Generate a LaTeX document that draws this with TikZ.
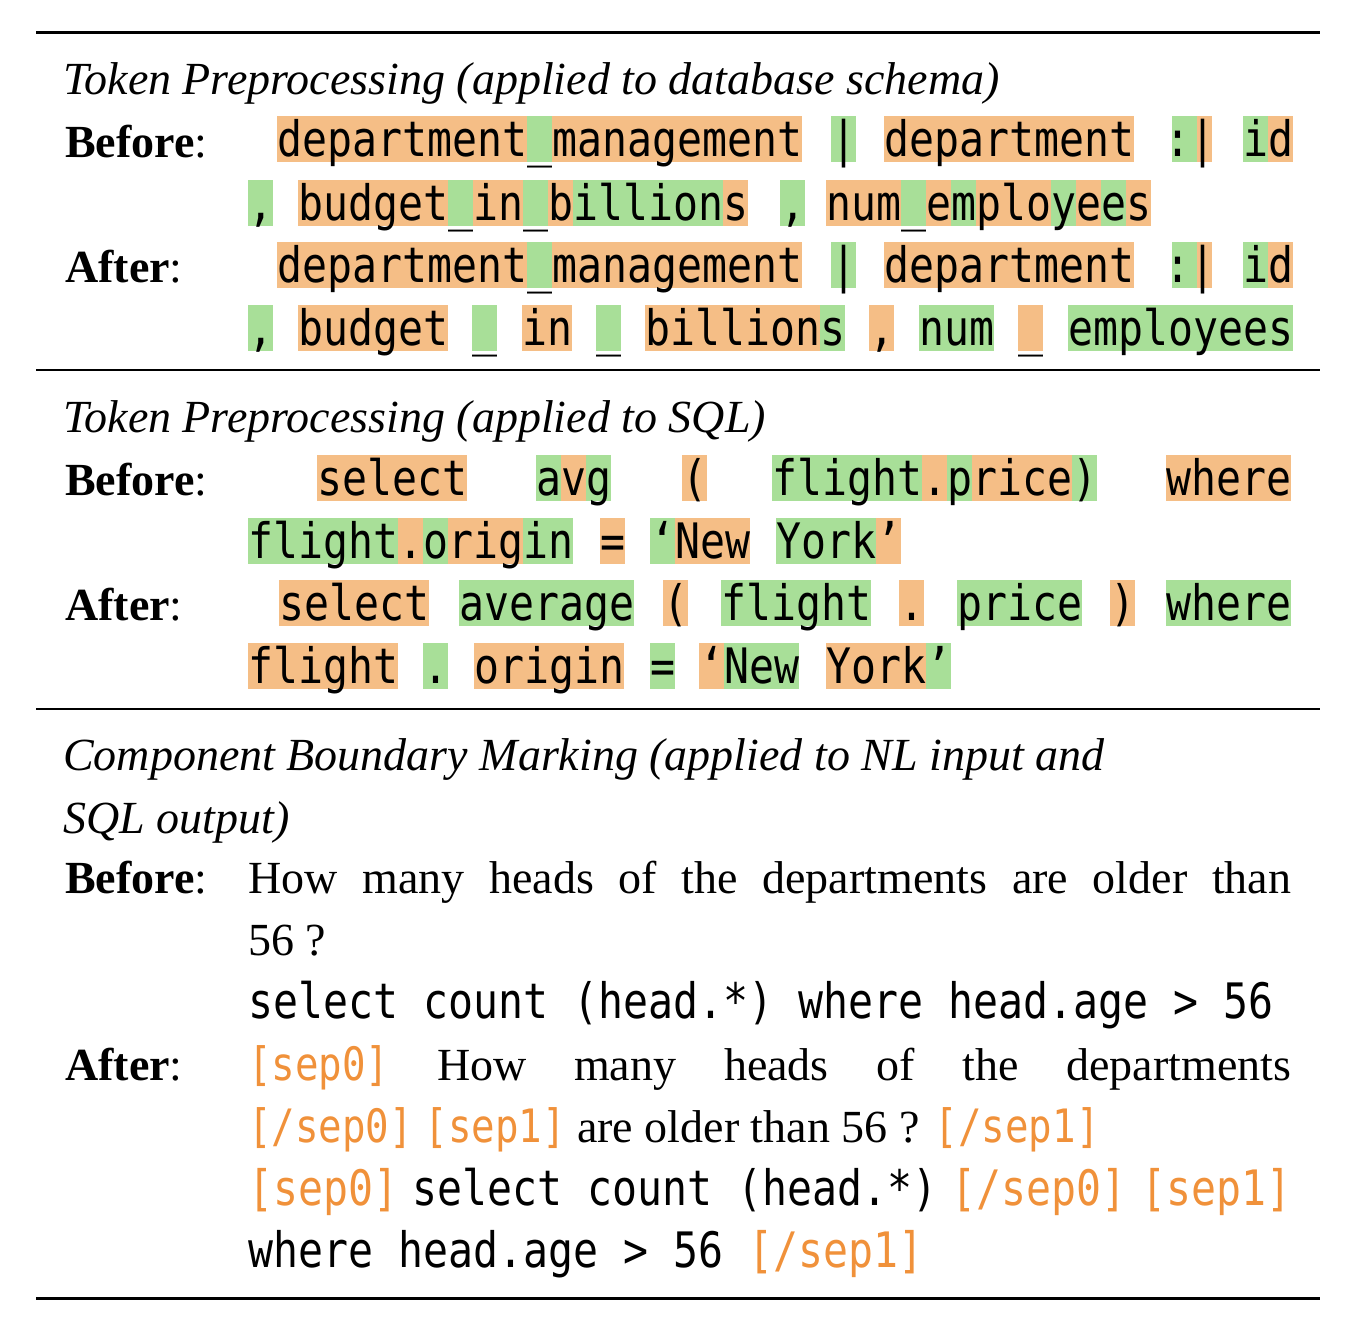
\documentclass[tikz,border=0pt]{standalone}
\usepackage{fontspec}
\setmainfont{Liberation Serif}
\newfontfamily\monof[FakeStretch=0.85]{DejaVu Sans Mono}
\definecolor{orb}{HTML}{F5BE86}
\definecolor{grb}{HTML}{A8DF98}
\definecolor{ort}{HTML}{F0913A}
\newcommand\sg[4]{\fill[#4] (#1,#2) rectangle ++(#3*25,46);}
\begin{document}
\begin{tikzpicture}[x=1pt,y=-1pt,
  mono/.style={anchor=base west,inner sep=0pt,font=\monof\fontsize{48.85}{50}\selectfont},
  ser/.style={anchor=base west,inner sep=0pt,font=\fontsize{46}{50}\selectfont},
  sep/.style={text=ort}]
\useasboundingbox (0,0) rectangle (1370,1320);
\draw[line width=3pt] (36,32) -- (1320,32);
\draw[line width=1.5pt] (36,370) -- (1320,370);
\draw[line width=1.5pt] (36,709) -- (1320,709);
\draw[line width=3pt] (36,1298) -- (1320,1298);
% ---------- section 1
\node[ser] (t1) at (63,94) {\itshape Token Preprocessing (applied to database schema)};
\node[ser] (b1) at (65,157) {\textbf{Before}:};
\node[ser] (a1) at (65,282) {\textbf{After}:};
% line 1 & 3
\foreach \t/\b in {116/156,242/282}{
 \sg{277}{\t}{10}{orb}\sg{527}{\t}{1}{grb}\sg{552}{\t}{10}{orb}
 \sg{831}{\t}{1}{grb}
 \sg{884}{\t}{10}{orb}
 \sg{1172}{\t}{1}{grb}\sg{1197}{\t}{0.6}{orb}
 \sg{1243}{\t}{1}{grb}\sg{1268}{\t}{1}{orb}
 \node[mono] at (277,\b) {department\_management};
 \node[mono] at (831,\b) {|};
 \node[mono] at (884,\b) {department};
 \node[mono] at (1165,\b) {:|};
 \node[mono] at (1243,\b) {id};
}
% line 2
\sg{248}{180}{1}{grb}
\sg{298}{180}{6}{orb}\sg{448}{180}{1}{grb}\sg{473}{180}{2}{orb}\sg{523}{180}{1}{grb}\sg{548}{180}{1}{orb}\sg{573}{180}{6}{grb}\sg{723}{180}{1}{orb}
\sg{780}{180}{1}{grb}
\sg{826}{180}{3}{orb}\sg{901}{180}{1}{grb}\sg{926}{180}{1}{orb}\sg{951}{180}{1}{grb}\sg{976}{180}{3}{orb}\sg{1051}{180}{1}{grb}\sg{1076}{180}{1}{orb}\sg{1101}{180}{1}{grb}\sg{1126}{180}{1}{orb}
\node[mono] at (248,220) {,};
\node[mono] at (298,220) {budget\_in\_billions};
\node[mono] at (780,220) {,};
\node[mono] at (826,220) {num\_employees};
% line 4
\sg{248}{305}{1}{grb}\sg{298}{305}{6}{orb}\sg{472}{305}{1}{grb}\sg{522}{305}{2}{orb}\sg{596}{305}{1}{grb}
\sg{645}{305}{7}{orb}\sg{820}{305}{1}{grb}\sg{869}{305}{1}{orb}\sg{919}{305}{3}{grb}\sg{1018}{305}{1}{orb}\sg{1068}{305}{9}{grb}
\node[mono] at (248,345) {,};
\node[mono] at (298,345) {budget};
\node[mono] at (472,345) {\_};
\node[mono] at (522,345) {in};
\node[mono] at (596,345) {\_};
\node[mono] at (645,345) {billions};
\node[mono] at (869,345) {,};
\node[mono] at (919,345) {num};
\node[mono] at (1018,345) {\_};
\node[mono] at (1068,345) {employees};
% ---------- section 2
\node[ser] (t2) at (63,432) {\itshape Token Preprocessing (applied to SQL)};
\node[ser] (b2) at (65,495) {\textbf{Before}:};
\node[ser] (a2) at (65,620) {\textbf{After}:};
% line 5
\sg{317}{455}{6}{orb}
\sg{536}{455}{1}{grb}\sg{561}{455}{1}{orb}\sg{586}{455}{1}{grb}
\sg{682}{455}{1}{orb}
\sg{772}{455}{6}{grb}\sg{922}{455}{1}{orb}\sg{947}{455}{1}{grb}\sg{972}{455}{4}{orb}\sg{1072}{455}{1}{grb}
\sg{1166}{455}{5}{orb}
\node[mono] at (317,495) {select};
\node[mono] at (536,495) {avg};
\node[mono] at (682,495) {(};
\node[mono] at (772,495) {flight.price)};
\node[mono] at (1166,495) {where};
% line 6
\sg{248}{518}{6}{grb}\sg{398}{518}{1}{orb}\sg{423}{518}{1}{grb}\sg{448}{518}{3}{orb}\sg{523}{518}{2}{grb}
\sg{600}{518}{1}{orb}
\sg{650}{518}{1}{grb}\sg{675}{518}{3}{orb}
\sg{776}{518}{4}{grb}\sg{876}{518}{1}{orb}
\node[mono] at (248,558) {flight.origin};
\node[mono] at (600,558) {=};
\node[mono] at (650,558) {‘New};
\node[mono] at (776,558) {York’};
% line 7
\sg{279}{580}{6}{orb}\sg{459}{580}{7}{grb}\sg{663}{580}{1}{orb}\sg{721}{580}{6}{grb}\sg{899}{580}{1}{orb}\sg{957}{580}{5}{grb}\sg{1110}{580}{1}{orb}\sg{1166}{580}{5}{grb}
\node[mono] at (279,620) {select};
\node[mono] at (459,620) {average};
\node[mono] at (663,620) {(};
\node[mono] at (721,620) {flight};
\node[mono] at (899,620) {.};
\node[mono] at (957,620) {price};
\node[mono] at (1110,620) {)};
\node[mono] at (1166,620) {where};
% line 8
\sg{248}{643}{6}{orb}\sg{423}{643}{1}{grb}\sg{474}{643}{6}{orb}\sg{650}{643}{1}{grb}
\sg{699}{643}{1}{orb}\sg{724}{643}{3}{grb}\sg{826}{643}{4}{orb}\sg{926}{643}{1}{grb}
\node[mono] at (248,683) {flight};
\node[mono] at (423,683) {.};
\node[mono] at (474,683) {origin};
\node[mono] at (650,683) {=};
\node[mono] at (699,683) {‘New};
\node[mono] at (826,683) {York’};
% ---------- section 3
\node[ser] (t3) at (63,770) {\itshape Component Boundary Marking (applied to NL input and};
\node[ser] (t3b) at (63,833) {\itshape SQL output)};
\node[ser] (b3) at (65,893) {\textbf{Before}:};
\node[ser] (l1) at (248,893) {\makebox[1043pt][s]{How many heads of the departments are older than}};
\node[ser] (l2) at (248,955) {56 ?};
\node[mono] (l3) at (248,1018) {select count (head.*) where head.age > 56};
\node[ser] (a3) at (65,1080) {\textbf{After}:};
\node[ser] (l4) at (248,1080) {\makebox[1043pt][l]{{\monof\color{ort}[sep0]}\hfill How\hfill many\hfill heads\hfill of\hfill the\hfill departments}};
\node[ser] (l5) at (248,1142) {{\monof\color{ort}[/sep0]} {\monof\color{ort}[sep1]} are older than 56 ? {\monof\color{ort}[/sep1]}};
\node[mono] (l6) at (248,1205) {\makebox[1043pt][l]{{\color{ort}[sep0]}\hfill select count (head.*)\hfill{\color{ort}[/sep0]}\hfill{\color{ort}[sep1]}}};
\node[mono] (l7) at (248,1267) {where head.age > 56 {\color{ort}[/sep1]}};
\end{tikzpicture}
\end{document}
